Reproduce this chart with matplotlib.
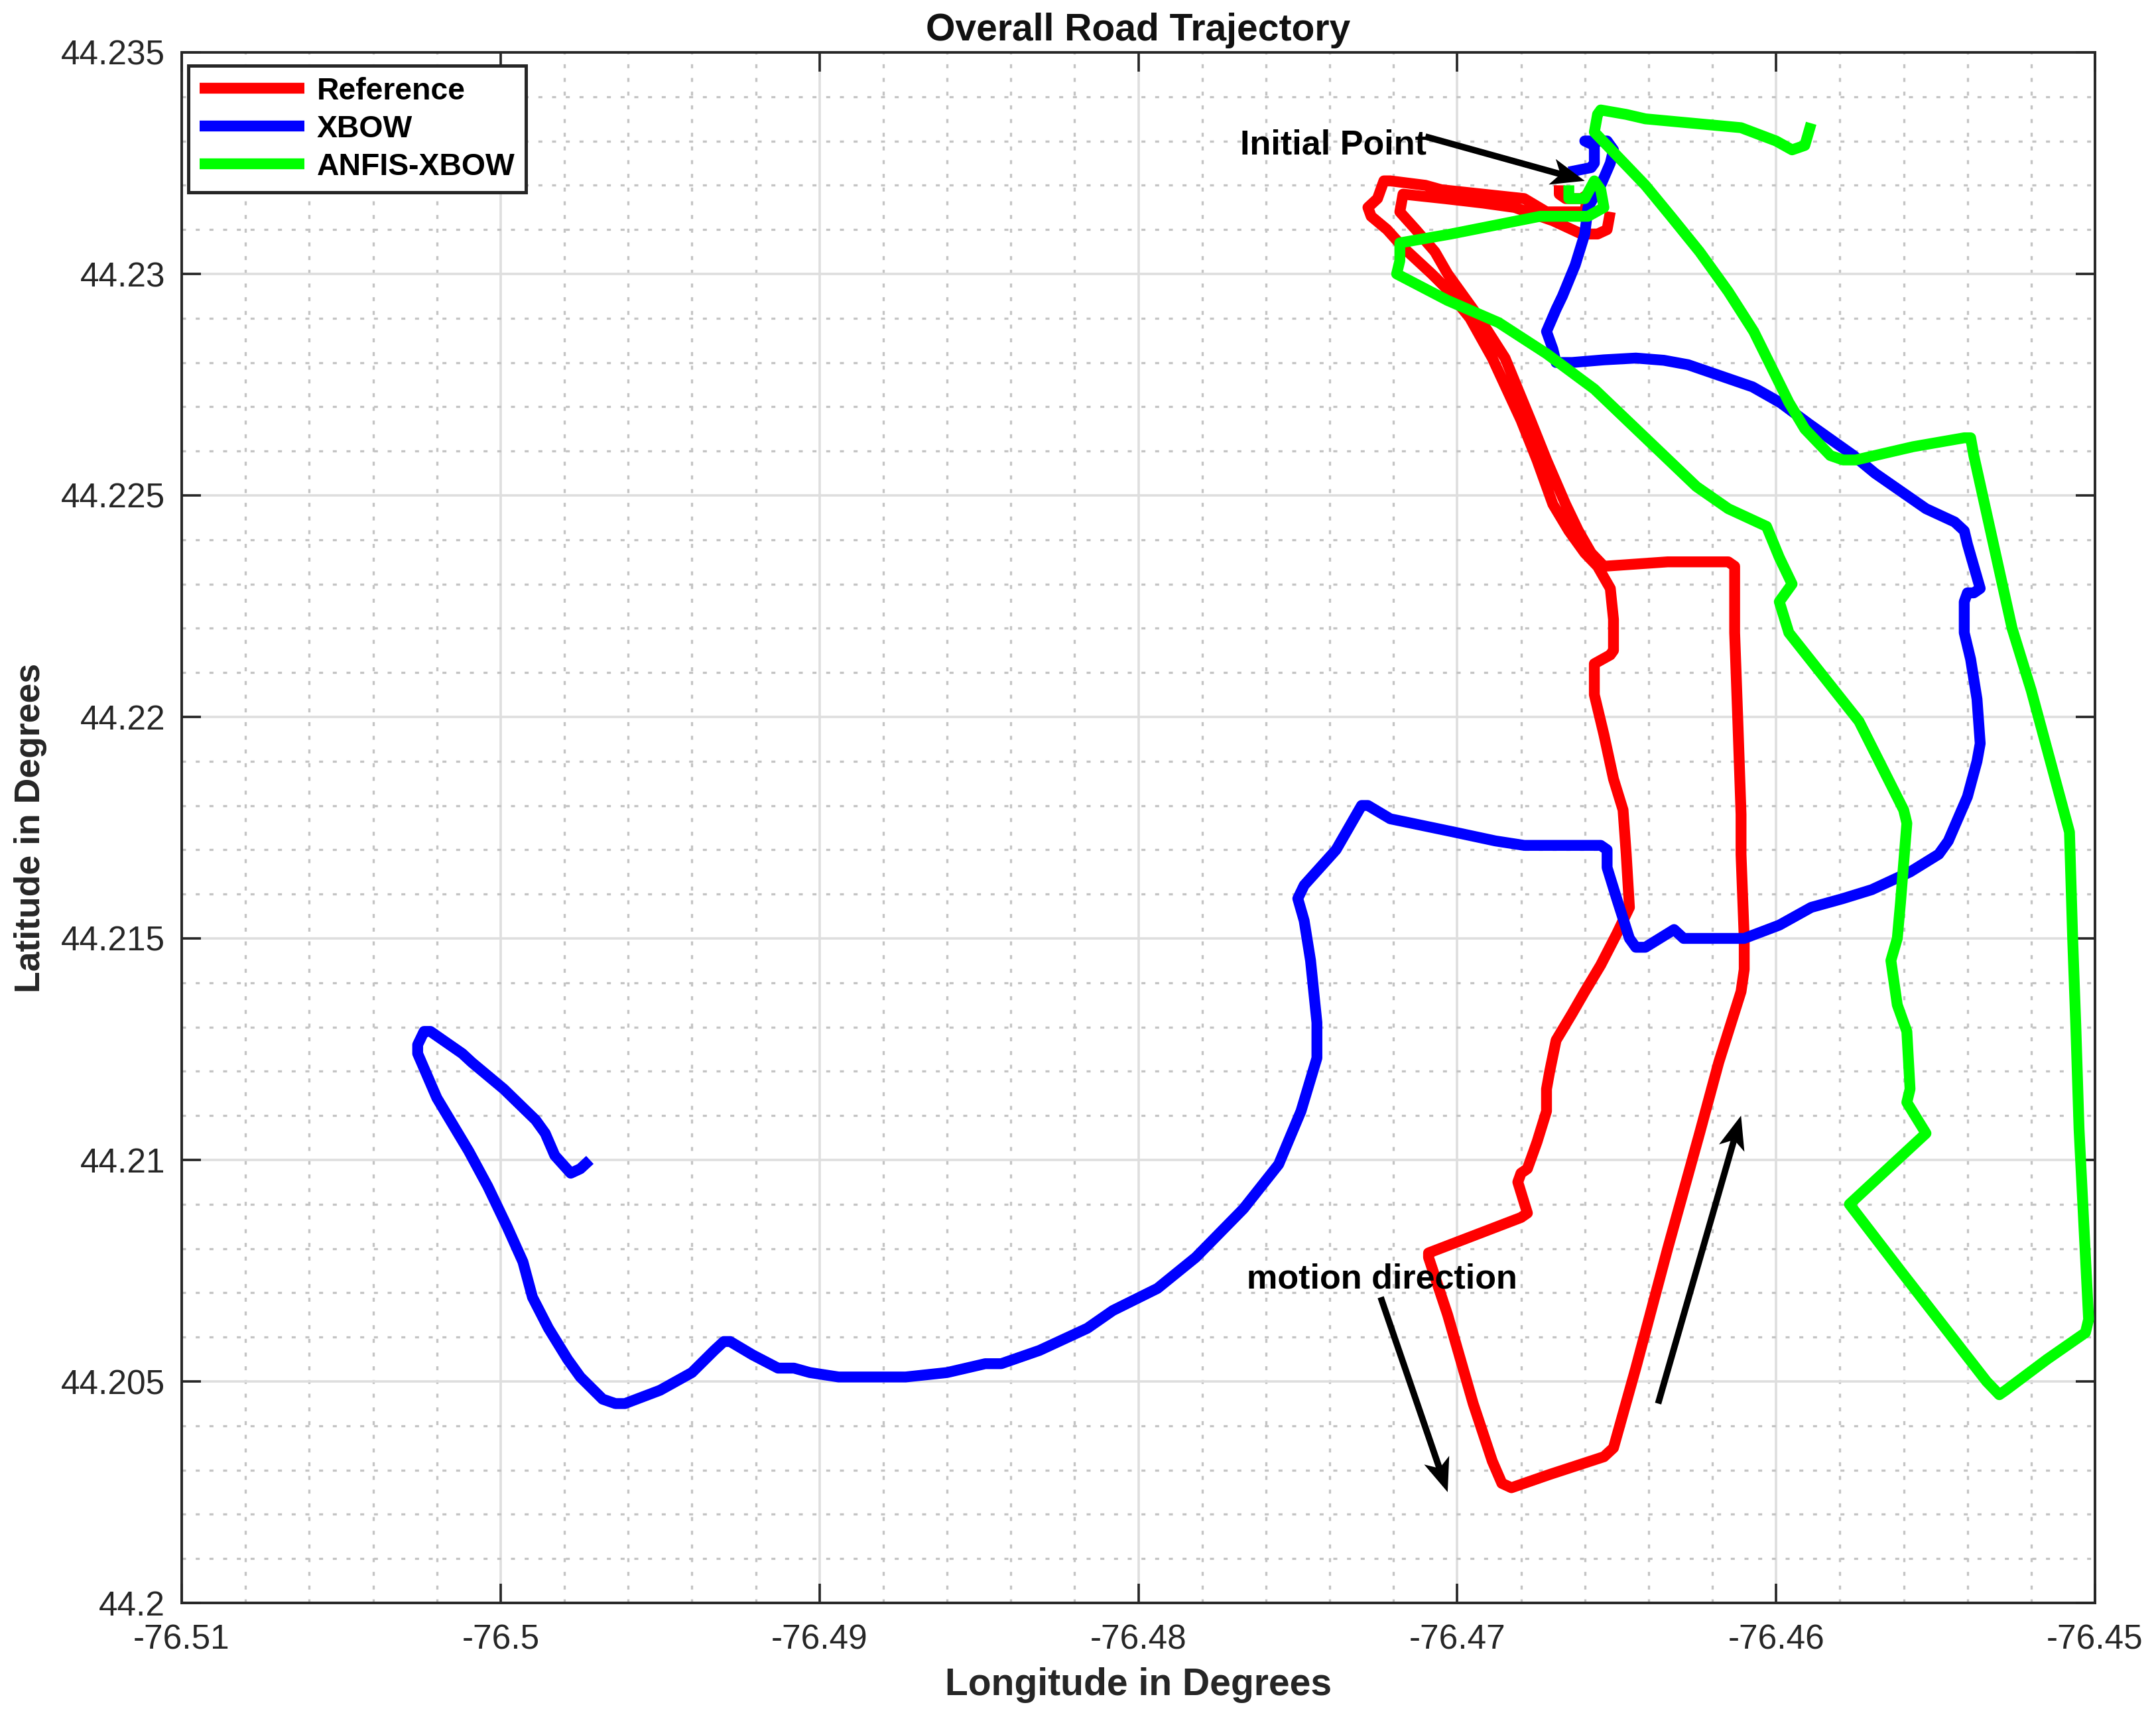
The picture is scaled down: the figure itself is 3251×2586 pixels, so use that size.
import matplotlib
matplotlib.use("Agg")
import math
import matplotlib.pyplot as plt
from matplotlib.lines import Line2D
from matplotlib.patches import PathPatch
from matplotlib.path import Path
from matplotlib.transforms import Affine2D, ScaledTranslation

plt.rcParams['font.family'] = ['Liberation Sans', 'DejaVu Sans']

ref_lon = [-76.4668,-76.4668,-76.4666,-76.4661,-76.4659,-76.4660,-76.4672,-76.4679,-76.4692,-76.4705,-76.4710,-76.4721,-76.4723,-76.4724,-76.4725,-76.4728,-76.4727,-76.4722,-76.4717,-76.4708,-76.47038,-76.4696,-76.4689,-76.4680,-76.4675,-76.4670,-76.4665,-76.4660,-76.4656,-76.4652,-76.4651,-76.4651,-76.4652,-76.4657,-76.4657,-76.4654,-76.4651,-76.4648,-76.4647,-76.4646,-76.4650,-76.4655,-76.4660,-76.4664,-76.4669,-76.4671,-76.4672,-76.4672,-76.4675,-76.4678,-76.4680,-76.4681,-76.4678,-76.4680,-76.4709,-76.4709,-76.4703,-76.4695,-76.4689,-76.4686,-76.4683,-76.4671,-76.4654,-76.4651,-76.4644,-76.4634,-76.4624,-76.4618,-76.4611,-76.4610,-76.4610,-76.4611,-76.4611,-76.4612,-76.4613,-76.4613,-76.4615,-76.4634,-76.4654,-76.4658,-76.4662,-76.4666,-76.4672,-76.4677,-76.4685,-76.4693,-76.4700,-76.4703,-76.4707,-76.4713,-76.4718,-76.4717,-76.4704,-76.4692,-76.4682,-76.4670,-76.4661,-76.4656,-76.4653,-76.4652]
ref_lat = [44.2320,44.2318,44.2317,44.2317,44.2318,44.2314,44.2314,44.2317,44.2318,44.2319,44.2320,44.2321,44.2321,44.2319,44.2317,44.2315,44.2313,44.2310,44.2306,44.2300,44.2297,44.2290,44.2281,44.2267,44.2258,44.2248,44.2242,44.2237,44.2234,44.2229,44.2222,44.2215,44.2214,44.2212,44.2205,44.2196,44.2186,44.2179,44.2169,44.2157,44.2151,44.2144,44.2138,44.2133,44.2127,44.2120,44.2116,44.2111,44.2104,44.2098,44.2097,44.2095,44.2088,44.2087,44.2079,44.2078,44.2065,44.2045,44.2032,44.2027,44.2026,44.2029,44.2033,44.2035,44.2053,44.2080,44.2106,44.2122,44.2138,44.2143,44.2150,44.2169,44.2178,44.2199,44.2219,44.2234,44.2235,44.2235,44.2234,44.2237,44.2242,44.2248,44.2258,44.2267,44.2281,44.2290,44.2297,44.2300,44.2305,44.2310,44.2314,44.2318,44.2317,44.2316,44.2315,44.2312,44.2309,44.2309,44.2310,44.2314]

xbow_lon = [-76.4665,-76.4658,-76.4657,-76.4657,-76.4660,-76.4653,-76.4651,-76.4652,-76.4655,-76.4659,-76.4660,-76.4663,-76.4667,-76.4669,-76.4672,-76.4670,-76.4669,-76.4664,-76.4654,-76.4644,-76.46352,-76.46276,-76.46175,-76.46074,-76.45986,-76.45898,-76.45759,-76.4569,-76.4563,-76.4553,-76.4544,-76.4541,-76.4540,-76.4536,-76.4538,-76.4540,-76.4541,-76.4541,-76.4539,-76.4537,-76.4536,-76.4537,-76.4540,-76.4546,-76.4549,-76.4558,-76.4570,-76.4579,-76.4589,-76.4599,-76.4610,-76.4621,-76.4629,-76.4632,-76.4641,-76.4644,-76.4646,-76.4650,-76.4653,-76.4653,-76.4655,-76.4667,-76.4679,-76.4688,-76.4701,-76.4721,-76.4728,-76.4730,-76.4738,-76.4748,-76.4750,-76.4748,-76.4746,-76.4744,-76.4744,-76.4749,-76.4756,-76.4767,-76.4782,-76.4794,-76.4808,-76.4816,-76.4831,-76.4843,-76.4848,-76.4860,-76.4873,-76.4887,-76.4894,-76.4903,-76.4908,-76.4913,-76.4921,-76.4928,-76.4930,-76.4933,-76.4940,-76.4950,-76.4961,-76.4964,-76.4968,-76.4975,-76.4979,-76.4985,-76.4990,-76.4993,-76.4998,-76.5004,-76.5010,-76.5020,-76.5026,-76.5026,-76.5024,-76.5022,-76.5016,-76.5012,-76.5009,-76.4999,-76.4989,-76.4986,-76.4983,-76.4978,-76.4975,-76.4972]
xbow_lat = [44.2323,44.2324,44.2325,44.2329,44.2330,44.2330,44.2328,44.2325,44.2320,44.2315,44.2309,44.2302,44.2295,44.2292,44.2287,44.2283,44.2280,44.2280,44.22806,44.2281,44.22805,44.22795,44.2277,44.22745,44.22709,44.22662,44.22591,44.2255,44.2252,44.2247,44.2244,44.2242,44.2239,44.2229,44.2228,44.2228,44.2226,44.2219,44.2213,44.2204,44.2194,44.2190,44.2182,44.2172,44.2169,44.2165,44.2161,44.2159,44.2157,44.2153,44.2150,44.2150,44.2150,44.2152,44.2148,44.2148,44.2150,44.2159,44.2166,44.2170,44.2171,44.2171,44.2171,44.2172,44.2174,44.2177,44.2180,44.2180,44.2170,44.2162,44.2159,44.2154,44.2145,44.2131,44.2123,44.2111,44.2099,44.2089,44.2078,44.2071,44.2066,44.2062,44.2057,44.2054,44.2054,44.2052,44.2051,44.2051,44.2051,44.2052,44.2053,44.2053,44.2056,44.2059,44.2059,44.2057,44.2052,44.2048,44.2045,44.2045,44.2046,44.2051,44.2055,44.2062,44.2069,44.2077,44.2085,44.2094,44.2102,44.2114,44.2124,44.2126,44.2129,44.2129,44.2126,44.2124,44.2122,44.2116,44.2109,44.2106,44.2101,44.2097,44.2098,44.2100]

anfis_lon = [-76.4665,-76.4665,-76.4660,-76.4657,-76.4655,-76.4654,-76.4659,-76.4674,-76.4702,-76.4718,-76.4718,-76.4719,-76.4703,-76.4687,-76.4672,-76.4657,-76.4641,-76.4625,-76.4615,-76.4606,-76.4603,-76.4599,-76.4595,-76.4597,-76.4599,-76.4596,-76.4585,-76.4574,-76.4560,-76.4559,-76.4561,-76.4562,-76.4564,-76.4562,-76.4559,-76.4558,-76.4559,-76.4553,-76.4577,-76.4561,-76.4534,-76.4530,-76.4528,-76.4515,-76.4503,-76.4502,-76.4505,-76.4506,-76.4507,-76.4508,-76.4520,-76.4526,-76.4534,-76.4538,-76.4539,-76.4541,-76.4557,-76.4575,-76.4579,-76.4583,-76.4591,-76.4596,-76.4607,-76.4615,-76.4624,-76.4633,-76.4641,-76.4653,-76.4657,-76.4656,-76.4655,-76.4647,-76.4641,-76.4611,-76.4600,-76.4595,-76.4591,-76.4589]
anfis_lat = [44.2320,44.2317,44.2317,44.2321,44.2319,44.2315,44.2313,44.2313,44.2309,44.2307,44.2303,44.2300,44.2294,44.2289,44.2282,44.2274,44.2263,44.2252,44.2247,44.2244,44.2243,44.2236,44.2230,44.2228,44.2226,44.2219,44.2209,44.2199,44.2179,44.2176,44.2158,44.2150,44.2145,44.2135,44.2129,44.2116,44.2113,44.2106,44.2090,44.2075,44.2050,44.2047,44.2048,44.2055,44.2061,44.2064,44.2107,44.2130,44.2150,44.2174,44.2206,44.2220,44.2246,44.2259,44.2263,44.2263,44.2261,44.2258,44.2258,44.2259,44.2265,44.2271,44.2287,44.2296,44.2305,44.2313,44.2320,44.2329,44.2332,44.2336,44.2337,44.2336,44.2335,44.2333,44.2330,44.2328,44.2329,44.2334]

series_names = ['Reference', 'XBOW', 'ANFIS-XBOW']
x_ticks = [-76.51,-76.5,-76.49,-76.48,-76.47,-76.46,-76.45]
x_tick_labels = ['-76.51','-76.5','-76.49','-76.48','-76.47','-76.46','-76.45']
y_ticks = [44.2,44.205,44.21,44.215,44.22,44.225,44.23,44.235]
y_tick_labels = ['44.2','44.205','44.21','44.215','44.22','44.225','44.23','44.235']
x_minor = [-76.508,-76.506,-76.504,-76.502,-76.498,-76.496,-76.494,-76.492,-76.488,-76.486,-76.484,-76.482,-76.478,-76.476,-76.474,-76.472,-76.468,-76.466,-76.464,-76.462,-76.458,-76.456,-76.454,-76.452]
y_minor = [44.201,44.202,44.203,44.204,44.206,44.207,44.208,44.209,44.211,44.212,44.213,44.214,44.216,44.217,44.218,44.219,44.221,44.222,44.223,44.224,44.226,44.227,44.228,44.229,44.231,44.232,44.233,44.234]

DARK = '#262626'
fig = plt.figure(figsize=(32.51, 25.86), dpi=100)
ax = fig.add_axes([274/3251, 1-2417/2586, (3159-274)/3251, (2417-79)/2586])

lw = 11.8
for lo, la, c, n in zip((ref_lon, xbow_lon, anfis_lon), (ref_lat, xbow_lat, anfis_lat),
                        ('#ff0000', '#0000ff', '#00ff00'), series_names):
    ax.plot(lo, la, color=c, lw=lw, solid_joinstyle='round', solid_capstyle='butt', label=n, zorder=3)

ax.set_xlim(-76.51, -76.45)
ax.set_ylim(44.2, 44.235)
ax.set_xticks(x_ticks)
ax.set_xticklabels(x_tick_labels)
ax.set_yticks(y_ticks)
ax.set_yticklabels(y_tick_labels)
ax.set_xticks(x_minor, minor=True)
ax.set_yticks(y_minor, minor=True)
ax.tick_params(which='major', direction='in', top=True, right=True, length=21, width=2.6,
               color=DARK, labelcolor=DARK, labelsize=37)
ax.tick_params(axis='x', which='major', pad=23)
ax.tick_params(axis='y', which='major', pad=18)
ax.tick_params(which='minor', length=0)
ax.grid(which='major', color='#dedede', lw=2.6, zorder=0)
ax.grid(which='minor', color='#c4c4c4', lw=2.4, linestyle=(0, (1.8, 4.4)), zorder=0)
ax.set_axisbelow(True)
for s in ax.spines.values():
    s.set_linewidth(2.8)
    s.set_color(DARK)
ax.set_title('Overall Road Trajectory', fontsize=41, fontweight='bold', color='#111111', pad=13)
ax.set_xlabel('Longitude in Degrees', fontsize=41, fontweight='bold', color=DARK)
ax.set_ylabel('Latitude in Degrees', fontsize=38.5, fontweight='bold', color=DARK)
ax.xaxis.set_label_coords(0.5, -0.0417)
ax.yaxis.set_label_coords(-0.0705, 0.5)

handles = [Line2D([], [], color=c, lw=lw, solid_capstyle='butt') for c in ('#ff0000', '#0000ff', '#00ff00')]
leg = ax.legend(handles, series_names, loc='upper left', bbox_to_anchor=(0.0035, 0.9915), borderaxespad=0,
                prop={'weight': 'bold', 'size': 33.4}, fancybox=False, framealpha=1,
                edgecolor=DARK, handlelength=3.41, handletextpad=0.40, labelspacing=0.28,
                borderpad=0.36)
leg.get_frame().set_linewidth(3.6)
leg.set_zorder(5)


def arrow(start, tip):
    """Black shaft with a notched MATLAB-style head whose tip is at the data point `tip`."""
    ax.annotate('', xy=tip, xytext=start, zorder=6,
                arrowprops=dict(arrowstyle='-', color='black', lw=7, shrinkA=0, shrinkB=27, capstyle='butt'))
    p0, p1 = ax.transData.transform([start, tip])
    angle = math.atan2(p1[1] - p0[1], p1[0] - p0[0])
    head = Path([(0, 0), (-51, 20), (-38, 0), (-51, -20), (0, 0)],
                [Path.MOVETO, Path.LINETO, Path.LINETO, Path.LINETO, Path.CLOSEPOLY])
    tr = Affine2D().rotate(angle) + ScaledTranslation(tip[0], tip[1], ax.transData)
    ax.add_patch(PathPatch(head, transform=tr, facecolor='black', edgecolor='none', zorder=6, clip_on=False))


ax.text(-76.4768, 44.2329, 'Initial Point', fontsize=37.5, fontweight='bold', color='black', va='center', ha='left', zorder=6)
arrow((-76.4710, 44.2331), (-76.4660, 44.2321))
ax.text(-76.4766, 44.2073, 'motion direction', fontsize=37.5, fontweight='bold', color='black', va='center', ha='left', zorder=6)
arrow((-76.4724, 44.2069), (-76.4703, 44.2025))
arrow((-76.4637, 44.2045), (-76.4611, 44.2110))

fig.savefig('out.png', dpi=100)
